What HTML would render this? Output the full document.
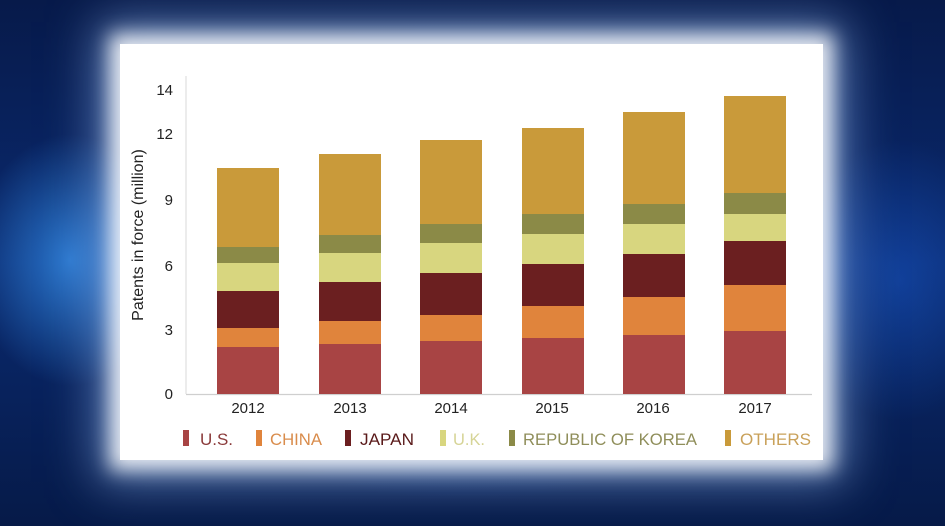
<!DOCTYPE html>
<html><head><meta charset="utf-8"><style>
html,body{margin:0;padding:0;width:945px;height:526px;overflow:hidden;background:#06163f;}
.bg{position:absolute;left:0;top:0;width:945px;height:526px;
background:
radial-gradient(ellipse 140px 180px at 70px 260px, rgba(60,160,255,.65), transparent 70%),
radial-gradient(ellipse 150px 200px at 900px 280px, rgba(30,100,220,.4), transparent 70%),
radial-gradient(ellipse 520px 320px at 470px 260px, rgba(20,80,200,.6), transparent 75%),
linear-gradient(180deg,#071a4a 0%,#0a2a70 50%,#061a48 100%);}
.glow{position:absolute;left:120px;top:44px;width:703px;height:416px;background:#fff;
box-shadow:0 0 18px 10px rgba(255,255,255,.85),0 0 45px 22px rgba(160,200,255,.55);}
svg{position:absolute;left:0;top:0;}
</style></head><body>
<div class="bg"></div>
<div class="glow"></div>
<svg width="945" height="526" xmlns="http://www.w3.org/2000/svg" font-family="Liberation Sans, Arial, sans-serif">
<line x1="186" y1="76" x2="186" y2="394" stroke="#d8d8d8" stroke-width="1"/>
<line x1="186" y1="394.5" x2="812" y2="394.5" stroke="#cfcfcf" stroke-width="1.2"/>
<g font-size="15" fill="#222" text-anchor="end">
<text x="173" y="95">14</text><text x="173" y="139">12</text><text x="173" y="205">9</text>
<text x="173" y="271">6</text><text x="173" y="335">3</text><text x="173" y="399">0</text>
</g>
<text transform="translate(143,235) rotate(-90)" font-size="16" fill="#222" text-anchor="middle">Patents in force (million)</text>
<g font-size="15" fill="#222" text-anchor="middle">
<text x="248" y="413">2012</text><text x="350" y="413">2013</text><text x="451" y="413">2014</text>
<text x="552" y="413">2015</text><text x="653" y="413">2016</text><text x="755" y="413">2017</text>
</g>
<g>
<g transform="translate(217,0)">
<rect y="168" width="62" height="79" fill="#c99a3a"/><rect y="247" width="62" height="16" fill="#8b8a47"/>
<rect y="263" width="62" height="28" fill="#d8d67f"/><rect y="291" width="62" height="37" fill="#6b1f20"/>
<rect y="328" width="62" height="19" fill="#e0843c"/><rect y="347" width="62" height="47" fill="#a84444"/></g>
<g transform="translate(319,0)">
<rect y="154" width="62" height="81" fill="#c99a3a"/><rect y="235" width="62" height="18" fill="#8b8a47"/>
<rect y="253" width="62" height="29" fill="#d8d67f"/><rect y="282" width="62" height="39" fill="#6b1f20"/>
<rect y="321" width="62" height="23" fill="#e0843c"/><rect y="344" width="62" height="50" fill="#a84444"/></g>
<g transform="translate(420,0)">
<rect y="140" width="62" height="84" fill="#c99a3a"/><rect y="224" width="62" height="19" fill="#8b8a47"/>
<rect y="243" width="62" height="30" fill="#d8d67f"/><rect y="273" width="62" height="42" fill="#6b1f20"/>
<rect y="315" width="62" height="26" fill="#e0843c"/><rect y="341" width="62" height="53" fill="#a84444"/></g>
<g transform="translate(522,0)">
<rect y="128" width="62" height="86" fill="#c99a3a"/><rect y="214" width="62" height="20" fill="#8b8a47"/>
<rect y="234" width="62" height="30" fill="#d8d67f"/><rect y="264" width="62" height="42" fill="#6b1f20"/>
<rect y="306" width="62" height="32" fill="#e0843c"/><rect y="338" width="62" height="56" fill="#a84444"/></g>
<g transform="translate(623,0)">
<rect y="112" width="62" height="92" fill="#c99a3a"/><rect y="204" width="62" height="20" fill="#8b8a47"/>
<rect y="224" width="62" height="30" fill="#d8d67f"/><rect y="254" width="62" height="43" fill="#6b1f20"/>
<rect y="297" width="62" height="38" fill="#e0843c"/><rect y="335" width="62" height="59" fill="#a84444"/></g>
<g transform="translate(724,0)">
<rect y="96" width="62" height="97" fill="#c99a3a"/><rect y="193" width="62" height="21" fill="#8b8a47"/>
<rect y="214" width="62" height="27" fill="#d8d67f"/><rect y="241" width="62" height="44" fill="#6b1f20"/>
<rect y="285" width="62" height="46" fill="#e0843c"/><rect y="331" width="62" height="63" fill="#a84444"/></g>
</g>
<g font-size="17">
<rect x="183" y="430" width="6" height="16" fill="#a84444"/><text x="200" y="445" fill="#8a3a3a" textLength="33" lengthAdjust="spacingAndGlyphs">U.S.</text>
<rect x="256" y="430" width="6" height="16" fill="#e0843c"/><text x="270" y="445" fill="#d98c4c" textLength="52" lengthAdjust="spacingAndGlyphs">CHINA</text>
<rect x="345" y="430" width="6" height="16" fill="#6b1f20"/><text x="360" y="445" fill="#5a1a1a" textLength="54" lengthAdjust="spacingAndGlyphs">JAPAN</text>
<rect x="440" y="430" width="6" height="16" fill="#d8d67f"/><text x="453" y="445" fill="#d6d496" textLength="32" lengthAdjust="spacingAndGlyphs">U.K.</text>
<rect x="509" y="430" width="6" height="16" fill="#8b8a47"/><text x="523" y="445" fill="#8f8e5a" textLength="174" lengthAdjust="spacingAndGlyphs">REPUBLIC OF KOREA</text>
<rect x="725" y="430" width="6" height="16" fill="#c99a3a"/><text x="740" y="445" fill="#c9a15a" textLength="71" lengthAdjust="spacingAndGlyphs">OTHERS</text>
</g>
</svg>
</body></html>
